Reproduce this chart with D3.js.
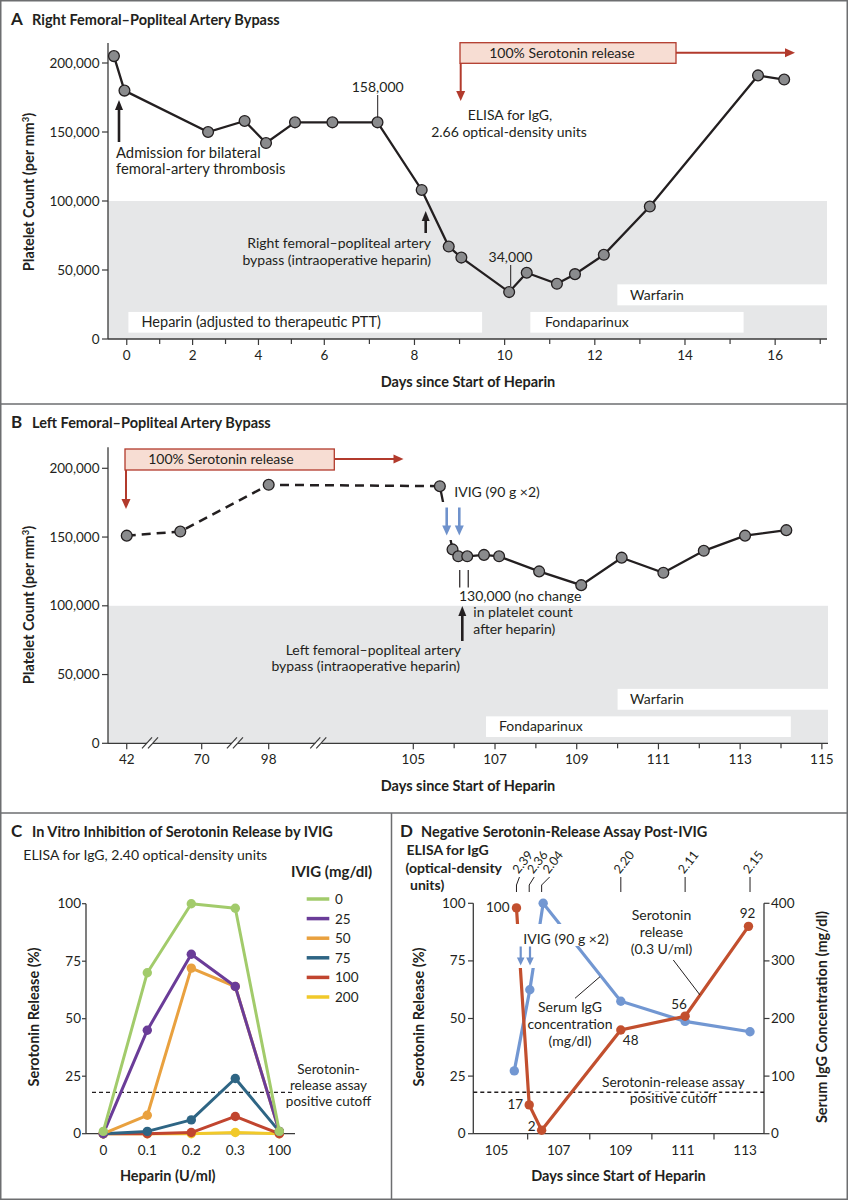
<!DOCTYPE html>
<html><head><meta charset="utf-8">
<script src="https://cdn.jsdelivr.net/npm/d3@7"></script>
<style>
body{margin:0;background:#fff}
svg text{font-family:Lato,"Open Sans",sans-serif;fill:#231f20}
</style></head>
<body><svg id="chart" width="848" height="1200"></svg>
<script>
// ---------- DATA ----------
// Panel A
const aDays   = [-0.39,-0.07,2.47,3.58,4.23,5.11,6.18,7.18,8.16,8.76,9.04,10.1,10.49,11.16,11.56,12.2,13.22,15.62,16.2];
const aCounts = [205000,180000,150000,158000,142000,157000,157000,157000,108000,67000,59000,34000,48000,40000,47000,61000,96000,191000,188000];
const aMajorTicks = [0,2,4,6,8,10,12,14,16];
const aMinorTicks = [1,3,5,7,9,11,13,15,17];
const yCountTicks = [0,50000,100000,150000,200000];
// Panel B
const bDays   = [42,62,98,105.65,105.96,106.1,106.32,106.73,107.1,108.08,109.11,110.1,111.12,112.11,113.12,114.13];
const bCounts = [151000,154000,188000,187000,141000,136000,136000,137000,136000,125000,115000,135000,124000,140000,151000,155000];
const bDashedCount = 4;
const bMajorTicks = [42,70,98,105,107,109,111,113,115];
const bMinorTicks = [106,108,110,112,114];
const bBreaks = [50.7,83.9,100.4];
// Panel C
const cHeparin = ["0","0.1","0.2","0.3","100"];
const cDoses = ["0","25","50","75","100","200"];
const ivig0   = [1,70,100,98,1];
const ivig25  = [0,45,78,64,1];
const ivig50  = [0,8,72,64,1];
const ivig75  = [0,1,6,24,1];
const ivig100 = [0,0,0.5,7.5,0];
const ivig200 = [0,0,0,0.5,0];
const cYTicks = [0,25,50,75,100];
const cutoff = 18;
// Panel D
const dRelDays = [105.64,106.05,106.45,109.0,111.07,113.11];
const dRelease = [98,12.5,1.5,45,51,90];
const dRelLabels = ["100","17","2","48","56","92"];
const dIgGDays = [105.57,106.07,106.5,109.0,111.07,113.16];
const dIgG = [109,250,400,230,195,177];
const dElisaDays = [105.64,106.05,106.45,109.0,111.07,113.16];
const dElisa = ["2.39","2.36","2.04","2.20","2.11","2.15"];
const dXLabels = [105,107,109,111,113];
const dXMinor = [106,108,110,112];
const dLeftTicks = [0,25,50,75,100];
const dRightTicks = [0,100,200,300,400];

// ---------- STYLE ----------
const INK = "#231f20", AX = "#3a3a3a";
const BAND = "#e6e7e8";
const PT = "#8a8b8d";
const SRED = "#b23a2c", SFILL = "#f7ddd3";
const IVBLUE = "#6f92cc";
const cColors = ["#a2cb6b","#6a3c98","#e9a13f","#2e6584","#c1452f","#f1c92a"];
const dRed = "#c24f2e", dBlue = "#7297d2";

const svg = d3.select("#chart");
const fmt = d3.format(",");

function txt(g, x, y, s, o={}) {
  const t = g.append("text").attr("x", x).attr("y", y).text(s)
    .attr("font-size", o.size || 14)
    .attr("text-anchor", o.anchor || "start");
  if (o.bold) t.attr("font-weight", "bold");
  if (o.fill) t.style("fill", o.fill);
  if (o.halo) t.attr("stroke", "#fff").attr("stroke-width", o.halo).attr("paint-order", "stroke");
  return t;
}
function arrow(g, x1, y1, x2, y2, color, w=2.5, hl=10, hw=4.5) {
  const dx = x2-x1, dy = y2-y1, L = Math.hypot(dx,dy), ux = dx/L, uy = dy/L;
  const bx = x2-ux*hl, by = y2-uy*hl;
  g.append("line").attr("x1",x1).attr("y1",y1).attr("x2",bx+ux*1).attr("y2",by+uy*1)
    .attr("stroke",color).attr("stroke-width",w);
  g.append("path").attr("d",`M${x2},${y2}L${bx-uy*hw},${by+ux*hw}L${bx+uy*hw},${by-ux*hw}Z`).attr("fill",color);
}
function vline(g, x, y1, y2, c=INK, w=1) {
  g.append("line").attr("x1",x).attr("x2",x).attr("y1",y1).attr("y2",y2).attr("stroke",c).attr("stroke-width",w);
}
function yTitle(g, x, y, s) {
  g.append("text").attr("transform",`translate(${x},${y}) rotate(-90)`).attr("text-anchor","middle")
    .attr("font-size",14.5).attr("font-weight","bold").text(s);
}
function yTitleMm(g, x, y) {
  g.append("text").attr("transform",`translate(${x},${y}) rotate(-90)`).attr("text-anchor","middle")
    .attr("font-size",14.5).attr("font-weight","bold")
    .html('Platelet Count (per mm<tspan font-size="9.5" dy="-5">3</tspan><tspan dy="5">)</tspan>');
}

// ---------- FRAME ----------
svg.append("rect").attr("x",0.75).attr("y",0.75).attr("width",846.5).attr("height",1198.5)
  .attr("fill","none").attr("stroke","#6d6e70").attr("stroke-width",1.5);
svg.append("line").attr("x1",0).attr("x2",848).attr("y1",404).attr("y2",404).attr("stroke","#6d6e70").attr("stroke-width",1.5);
svg.append("line").attr("x1",0).attr("x2",848).attr("y1",813).attr("y2",813).attr("stroke","#6d6e70").attr("stroke-width",1.5);
svg.append("line").attr("x1",391.5).attr("x2",391.5).attr("y1",813).attr("y2",1200).attr("stroke","#6d6e70").attr("stroke-width",1.5);

function title(letter, x, y, s) {
  txt(svg, x, y, letter, {size:17, bold:true});
  txt(svg, x+21, y, s, {size:14.5, bold:true});
}
title("A", 11, 24.5, "Right Femoral–Popliteal Artery Bypass");
title("B", 11, 427.5, "Left Femoral–Popliteal Artery Bypass");
title("C", 11, 836.5, "In Vitro Inhibition of Serotonin Release by IVIG");
title("D", 400, 836.5, "Negative Serotonin-Release Assay Post-IVIG");

function plateletFrame(g, x, y, x0, x1, yTop, majors, minors, tickLabelY, titleY) {
  g.append("line").attr("x1",x0).attr("x2",x0).attr("y1",yTop).attr("y2",y(0)).attr("stroke",AX).attr("stroke-width",1.3);
  yCountTicks.forEach(v => {
    g.append("line").attr("x1",x0-6).attr("x2",x0).attr("y1",y(v)).attr("y2",y(v)).attr("stroke",AX).attr("stroke-width",1.2);
    txt(g, x0-8.5, y(v)+4.5, fmt(v), {size:13.5, anchor:"end"});
  });
  g.append("line").attr("x1",x0).attr("x2",x1).attr("y1",y(0)).attr("y2",y(0)).attr("stroke",AX).attr("stroke-width",1.3);
  majors.forEach(v => {
    vline(g, x(v), y(0), y(0)+6, AX, 1.2);
    txt(g, x(v), tickLabelY, String(v), {size:13.5, anchor:"middle"});
  });
  minors.forEach(v => vline(g, x(v), y(0), y(0)+5, AX, 1.2));
  txt(g, 468, titleY, "Days since Start of Heparin", {size:14.5, bold:true, anchor:"middle"});
}
function dots(g, xs, ys, x, y, r=5.4) {
  g.selectAll(null).data(xs).join("circle").attr("cx",(d)=>x(d)).attr("cy",(d,i)=>y(ys[i])).attr("r",r)
    .attr("fill",PT).attr("stroke",INK).attr("stroke-width",1.3);
}

// ================= PANEL A =================
const gA = svg.append("g");
const xA = d3.scaleLinear().domain([-0.57,6,17.15]).range([108,324.3,827]);
const yA = d3.scaleLinear().domain([0,200000]).range([339,63]);
gA.append("rect").attr("x",108).attr("y",yA(100000)).attr("width",827-108).attr("height",yA(0)-yA(100000)).attr("fill",BAND);
gA.append("rect").attr("x",xA(0.05)).attr("y",yA(19600)).attr("width",xA(9.5)-xA(0.05)).attr("height",yA(4600)-yA(19600)).attr("fill","#fff");
gA.append("rect").attr("x",xA(10.57)).attr("y",yA(19600)).attr("width",xA(15.3)-xA(10.57)).attr("height",yA(4600)-yA(19600)).attr("fill","#fff");
gA.append("rect").attr("x",xA(12.5)).attr("y",yA(39600)).attr("width",827-xA(12.5)).attr("height",yA(24400)-yA(39600)).attr("fill","#fff");
txt(gA, 141.5, 327, "Heparin (adjusted to therapeutic PTT)", {size:14.5});
txt(gA, 545, 327, "Fondaparinux");
txt(gA, 630, 300, "Warfarin");
plateletFrame(gA, xA, yA, 108, 827, 43, aMajorTicks, aMinorTicks, 360, 387);
gA.append("path").datum(aDays).attr("fill","none").attr("stroke",INK).attr("stroke-width",2.3)
  .attr("d", d3.line().x(d=>xA(d)).y((d,i)=>yA(aCounts[i])));
dots(gA, aDays, aCounts, xA, yA);
yTitleMm(gA, 34, 192);
arrow(gA, 119, 142, 119, 100, INK, 2.6, 10, 4);
txt(gA, 116, 157.5, "Admission for bilateral", {size:14.8});
txt(gA, 116, 174, "femoral-artery thrombosis", {size:14.8});
txt(gA, 377.7, 91.5, "158,000", {anchor:"middle"});
vline(gA, 377.7, 95, 117.5);
arrow(gA, 425.7, 233, 425.7, 211, INK, 2.6, 10, 4);
txt(gA, 431, 248, "Right femoral–popliteal artery", {anchor:"end"});
txt(gA, 431, 264.5, "bypass (intraoperative heparin)", {anchor:"end"});
txt(gA, 510.5, 261.5, "34,000", {anchor:"middle"});
vline(gA, 510.7, 265, 286);
gA.append("rect").attr("x",460).attr("y",42.7).attr("width",216).attr("height",20.6).attr("fill",SFILL).attr("stroke",SRED).attr("stroke-width",1.3);
txt(gA, 562, 57.5, "100% Serotonin release", {anchor:"middle"});
arrow(gA, 676, 52.7, 795, 52.7, SRED, 2, 10, 4.5);
arrow(gA, 460.7, 63.3, 460.7, 101, SRED, 2, 10, 4.5);
txt(gA, 510, 119.5, "ELISA for IgG,", {anchor:"middle"});
txt(gA, 509, 137, "2.66 optical-density units", {anchor:"middle"});

// ================= PANEL B =================
const gB = svg.append("g");
const xB = d3.scaleLinear().domain([35,70,98,105,115.15]).range([108,201.7,268.7,413.3,828]);
const yB = d3.scaleLinear().domain([0,200000]).range([743.3,468.3]);
gB.append("rect").attr("x",108).attr("y",yB(100000)).attr("width",828-108).attr("height",yB(0)-yB(100000)).attr("fill",BAND);
gB.append("rect").attr("x",xB(110.0)).attr("y",yB(39600)).attr("width",828-xB(110.0)).attr("height",yB(24400)-yB(39600)).attr("fill","#fff");
gB.append("rect").attr("x",xB(106.78)).attr("y",yB(19600)).attr("width",xB(114.24)-xB(106.78)).attr("height",yB(4600)-yB(19600)).attr("fill","#fff");
txt(gB, 630, 703.5, "Warfarin");
txt(gB, 499, 731, "Fondaparinux");
plateletFrame(gB, xB, yB, 108, 828, 447.3, bMajorTicks, bMinorTicks, 764, 790.5);
bBreaks.forEach(d => {
  const bx = xB(d), by = yB(0);
  gB.append("rect").attr("x",bx-3).attr("y",by-2).attr("width",6).attr("height",4).attr("fill","#fff");
  [-3,3].forEach(o => gB.append("line").attr("x1",bx+o-5).attr("y1",by+5).attr("x2",bx+o+5).attr("y2",by-6).attr("stroke",AX).attr("stroke-width",1.2));
});
yTitleMm(gB, 34, 605);
const lineB = d3.line().x(d=>xB(d[0])).y(d=>yB(d[1]));
const bPairs = bDays.map((d,i)=>[d,bCounts[i]]);
gB.append("path").datum(bPairs.slice(0,bDashedCount)).attr("fill","none").attr("stroke",INK).attr("stroke-width",2.5)
  .attr("stroke-dasharray","9,6").attr("d",lineB);
gB.append("path").datum(bPairs.slice(bDashedCount-1)).attr("fill","none").attr("stroke",INK).attr("stroke-width",2.3).attr("d",lineB);
gB.append("rect").attr("x",438).attr("y",502).attr("width",28).attr("height",38).attr("fill","#fff");
dots(gB, bDays, bCounts, xB, yB);
arrow(gB, 446.7, 507.5, 446.7, 535.5, IVBLUE, 2.6, 10, 4.5);
arrow(gB, 459.3, 507.5, 459.3, 535.5, IVBLUE, 2.6, 10, 4.5);
txt(gB, 454.3, 497, "IVIG (90 g ×2)");
vline(gB, xB(106.1)+1.5, 570, 587.5, INK, 1.2);
vline(gB, xB(106.32)+1, 570, 587.5, INK, 1.2);
txt(gB, 459, 600.5, "130,000 (no change");
txt(gB, 473.3, 617, "in platelet count");
txt(gB, 473.3, 633.5, "after heparin)");
arrow(gB, 462.3, 641, 462.3, 606, INK, 2.6, 10, 4);
txt(gB, 461, 654.5, "Left femoral–popliteal artery", {anchor:"end"});
txt(gB, 460, 671, "bypass (intraoperative heparin)", {anchor:"end"});
gB.append("rect").attr("x",125).attr("y",449).attr("width",209.3).attr("height",21).attr("fill",SFILL).attr("stroke",SRED).attr("stroke-width",1.3);
txt(gB, 221, 463.8, "100% Serotonin release", {anchor:"middle"});
arrow(gB, 334.3, 459, 403.5, 459, SRED, 2, 10, 4.5);
arrow(gB, 126, 470, 126, 509, SRED, 2, 10, 4.5);

// ================= PANEL C =================
const gC = svg.append("g");
const xC = d3.scalePoint().domain(cHeparin).range([103.3,279.3]);
const yC = d3.scaleLinear().domain([0,100]).range([1133.7,903.7]);
txt(gC, 23.3, 859.5, "ELISA for IgG, 2.40 optical-density units");
gC.append("line").attr("x1",86).attr("x2",86).attr("y1",yC(100)).attr("y2",yC(0)).attr("stroke",AX).attr("stroke-width",1.3);
cYTicks.forEach(v => {
  gC.append("line").attr("x1",82).attr("x2",86).attr("y1",yC(v)).attr("y2",yC(v)).attr("stroke",AX).attr("stroke-width",1.2);
  txt(gC, 81, yC(v)+4.5, String(v), {size:13.5, anchor:"end"});
});
gC.append("line").attr("x1",86).attr("x2",295).attr("y1",yC(0)).attr("y2",yC(0)).attr("stroke",AX).attr("stroke-width",1.3);
cHeparin.forEach(c => txt(gC, xC(c), 1155, c, {size:13.5, anchor:"middle"}));
txt(gC, 167.7, 1180.5, "Heparin (U/ml)", {size:14.5, bold:true, anchor:"middle"});
yTitle(gC, 38.5, 1017, "Serotonin Release (%)");
gC.append("line").attr("x1",92).attr("x2",292).attr("y1",yC(cutoff)).attr("y2",yC(cutoff)).attr("stroke",INK).attr("stroke-width",1.3).attr("stroke-dasharray","4,3");
txt(gC, 328.5, 1074, "Serotonin-", {size:13.5, anchor:"middle", halo:3});
txt(gC, 328.5, 1090, "release assay", {size:13.5, anchor:"middle", halo:3});
txt(gC, 328.5, 1106, "positive cutoff", {size:13.5, anchor:"middle", halo:3});
const cSeries = [ivig0, ivig25, ivig50, ivig75, ivig100, ivig200];
const lineC = d3.line().x((d,i)=>xC(cHeparin[i])).y(d=>yC(d));
for (let k = cSeries.length-1; k >= 0; k--) {
  gC.append("path").datum(cSeries[k]).attr("fill","none").attr("stroke",cColors[k]).attr("stroke-width",3).attr("stroke-linejoin","round").attr("d",lineC);
  gC.selectAll(null).data(cSeries[k]).join("circle").attr("cx",(d,i)=>xC(cHeparin[i])).attr("cy",d=>yC(d)).attr("r",4.7).attr("fill",cColors[k]);
}
txt(gC, 291, 877, "IVIG (mg/dl)", {size:15, bold:true});
cDoses.forEach((d,i) => {
  const ly = 899 + i*19.6;
  gC.append("line").attr("x1",306.7).attr("x2",329.3).attr("y1",ly).attr("y2",ly).attr("stroke",cColors[i]).attr("stroke-width",3.5);
  txt(gC, 335, ly+5, d, {size:13.5});
});

// ================= PANEL D =================
const gD = svg.append("g");
const xD = d3.scaleLinear().domain([104.25,113.61]).range([473.3,764]);
const yDL = d3.scaleLinear().domain([0,100]).range([1133.7,903.3]);
const yDR = d3.scaleLinear().domain([0,400]).range([1133.7,903.3]);
txt(gD, 406.5, 855, "ELISA for IgG", {bold:true});
txt(gD, 405.5, 873, "(optical-density", {bold:true});
txt(gD, 410, 890, "units)", {bold:true});
gD.append("line").attr("x1",473.3).attr("x2",473.3).attr("y1",903.3).attr("y2",1133.7).attr("stroke",AX).attr("stroke-width",1.3);
gD.append("line").attr("x1",764).attr("x2",764).attr("y1",903.3).attr("y2",1133.7).attr("stroke",AX).attr("stroke-width",1.3);
gD.append("line").attr("x1",473.3).attr("x2",764).attr("y1",1133.7).attr("y2",1133.7).attr("stroke",AX).attr("stroke-width",1.3);
dLeftTicks.forEach(v => {
  gD.append("line").attr("x1",468).attr("x2",473.3).attr("y1",yDL(v)).attr("y2",yDL(v)).attr("stroke",AX).attr("stroke-width",1.2);
  txt(gD, 465.5, yDL(v)+4.5, String(v), {size:13.5, anchor:"end"});
});
dRightTicks.forEach(v => {
  gD.append("line").attr("x1",764).attr("x2",769.5).attr("y1",yDR(v)).attr("y2",yDR(v)).attr("stroke",AX).attr("stroke-width",1.2);
  txt(gD, 771, yDR(v)+4.5, String(v), {size:13.5});
});
dXLabels.forEach(v => txt(gD, xD(v), 1155, String(v), {size:13.5, anchor:"middle"}));
dXMinor.forEach(v => vline(gD, xD(v), 1133.7, 1139.5, AX, 1.2));
txt(gD, 618.5, 1180.5, "Days since Start of Heparin", {size:14.5, bold:true, anchor:"middle"});
yTitle(gD, 423.5, 1017, "Serotonin Release (%)");
yTitle(gD, 827, 1017, "Serum IgG Concentration (mg/dl)");
gD.append("line").attr("x1",473.3).attr("x2",764).attr("y1",yDL(cutoff)).attr("y2",yDL(cutoff)).attr("stroke",INK).attr("stroke-width",1.3).attr("stroke-dasharray","4,3");
txt(gD, 673.3, 1086.5, "Serotonin-release assay", {size:13.8, anchor:"middle", halo:4});
txt(gD, 673.3, 1102.5, "positive cutoff", {size:13.8, anchor:"middle", halo:4});
gD.append("path").datum(dIgGDays).attr("fill","none").attr("stroke",dBlue).attr("stroke-width",3.2)
  .attr("d", d3.line().x(d=>xD(d)).y((d,i)=>yDR(dIgG[i])));
gD.append("path").datum(dRelDays).attr("fill","none").attr("stroke",dRed).attr("stroke-width",3.2)
  .attr("d", d3.line().x(d=>xD(d)).y((d,i)=>yDL(dRelease[i])));
gD.append("rect").attr("x",514).attr("y",924).attr("width",98).attr("height",22).attr("fill","#fff");
gD.append("rect").attr("x",514).attr("y",924).attr("width",26).attr("height",44).attr("fill","#fff");
gD.selectAll(null).data(dIgGDays).join("circle").attr("cx",d=>xD(d)).attr("cy",(d,i)=>yDR(dIgG[i])).attr("r",4.7).attr("fill",dBlue);
gD.selectAll(null).data(dRelDays).join("circle").attr("cx",d=>xD(d)).attr("cy",(d,i)=>yDL(dRelease[i])).attr("r",4.7).attr("fill",dRed);
txt(gD, 523.3, 943.5, "IVIG (90 g ×2)");
arrow(gD, 520.7, 946.5, 520.7, 965.5, IVBLUE, 2.2, 8, 3.8);
arrow(gD, 530, 946.5, 530, 965.5, IVBLUE, 2.2, 8, 3.8);
const relOff = [[-7,4,"end"],[-6,4.5,"end"],[-6,0.5,"end"],[2,15,"start"],[-6,-7,"middle"],[-1,-8.5,"middle"]];
dRelLabels.forEach((s,i) => {
  const o = relOff[i];
  txt(gD, xD(dRelDays[i])+o[0], yDL(dRelease[i])+o[1], s, {size:13.5, anchor:o[2]});
});
// ELISA values on top (crowded first three spread with bent leaders)
const elisaTop = [3, 5, 8, 0, 0, 0];
dElisaDays.forEach((d,i) => {
  const x = xD(d), t = x + elisaTop[i];
  if (elisaTop[i] > 0) {
    gD.append("path").attr("d",`M${x},892L${x},885L${t},877`).attr("fill","none").attr("stroke",INK).attr("stroke-width",1);
  } else {
    vline(gD, x, 877, 892);
  }
  gD.append("text").attr("transform",`translate(${t-1},874.5) rotate(-52)`).attr("font-size",12.5).text(dElisa[i]);
});
txt(gD, 661.5, 919.5, "Serotonin", {anchor:"middle"});
txt(gD, 661.5, 937, "release", {anchor:"middle"});
txt(gD, 661.5, 954, "(0.3 U/ml)", {anchor:"middle"});
gD.append("line").attr("x1",673.3).attr("y1",960).attr("x2",700).attr("y2",995).attr("stroke",INK).attr("stroke-width",1);
txt(gD, 570, 1012, "Serum IgG", {anchor:"middle"});
txt(gD, 570, 1029, "concentration", {anchor:"middle"});
txt(gD, 570, 1046, "(mg/dl)", {anchor:"middle"});
gD.append("line").attr("x1",575).attr("y1",998.3).attr("x2",600).attr("y2",976.7).attr("stroke",INK).attr("stroke-width",1);
</script></body></html>
